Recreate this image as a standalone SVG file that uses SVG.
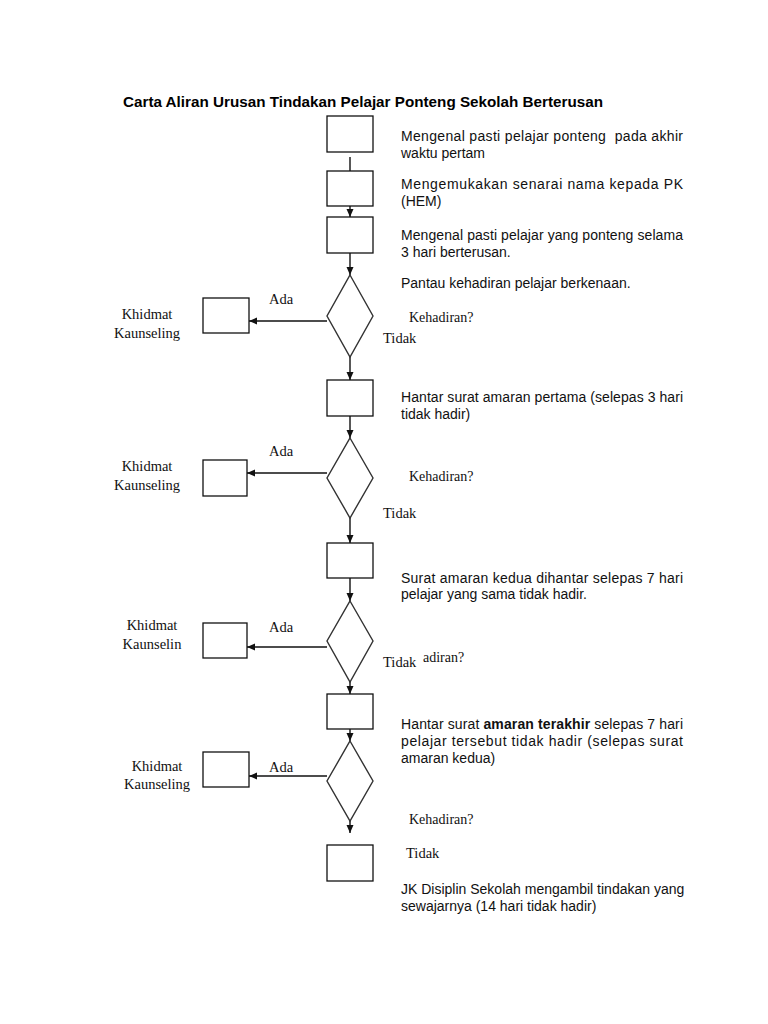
<svg xmlns="http://www.w3.org/2000/svg" width="768" height="1024" viewBox="0 0 768 1024">
<style>
.box{fill:#fff;stroke:#111;stroke-width:1.3}
.dia{fill:#fff;stroke:#333;stroke-width:1.4}
.con{fill:none;stroke:#111;stroke-width:1.4}
.sans{font-family:"Liberation Sans",Arial,sans-serif;font-size:14px;fill:#111}
.serif{font-family:"Liberation Serif","Times New Roman",serif;font-size:14.5px;fill:#111}
.q{font-size:14px}
.title{font-family:"Liberation Sans",Arial,sans-serif;font-size:15.2px;font-weight:bold;fill:#000}
</style>
<defs>
<marker id="arr" markerUnits="userSpaceOnUse" markerWidth="8" markerHeight="8" refX="8" refY="4" orient="auto">
<path d="M0,0.5 L8,4 L0,7.5 z" fill="#111"/>
</marker>
</defs>
<rect width="768" height="1024" fill="#fff"/>
<text class="title" x="123" y="107" textLength="480" lengthAdjust="spacingAndGlyphs">Carta Aliran Urusan Tindakan Pelajar Ponteng Sekolah Berterusan</text>

<g id="connectors">
<line class="con" x1="350" y1="157" x2="350" y2="171"/>
<line class="con" x1="350" y1="206" x2="350" y2="217" marker-end="url(#arr)"/>
<line class="con" x1="350" y1="253" x2="350" y2="275" marker-end="url(#arr)"/>
<line class="con" x1="327" y1="321" x2="249" y2="321" marker-end="url(#arr)"/>
<line class="con" x1="350" y1="357" x2="350" y2="380" marker-end="url(#arr)"/>
<line class="con" x1="350" y1="416" x2="350" y2="438" marker-end="url(#arr)"/>
<line class="con" x1="327" y1="473" x2="247" y2="473" marker-end="url(#arr)"/>
<line class="con" x1="350" y1="518" x2="350" y2="543" marker-end="url(#arr)"/>
<line class="con" x1="350" y1="578" x2="350" y2="601" marker-end="url(#arr)"/>
<line class="con" x1="327" y1="647" x2="247" y2="647" marker-end="url(#arr)"/>
<line class="con" x1="350" y1="682" x2="350" y2="694" marker-end="url(#arr)"/>
<line class="con" x1="350" y1="729" x2="350" y2="741" marker-end="url(#arr)"/>
<line class="con" x1="327" y1="776" x2="249" y2="776" marker-end="url(#arr)"/>
<line class="con" x1="350" y1="821" x2="350" y2="833" marker-end="url(#arr)"/>
</g>

<g id="step1"><rect class="box" x="327" y="116" width="46" height="36"/>
<text class="sans" x="401" y="141" textLength="282" lengthAdjust="spacing" xml:space="preserve">Mengenal pasti pelajar ponteng  pada akhir</text>
<text class="sans" x="401" y="158">waktu pertam</text></g>

<g id="step2"><rect class="box" x="327" y="171" width="46" height="35"/>
<text class="sans" x="401" y="189" textLength="282" lengthAdjust="spacing">Mengemukakan senarai nama kepada PK</text>
<text class="sans" x="401" y="206">(HEM)</text></g>

<g id="step3"><rect class="box" x="327" y="217" width="46" height="36"/>
<text class="sans" x="401" y="240" textLength="282" lengthAdjust="spacing">Mengenal pasti pelajar yang ponteng selama</text>
<text class="sans" x="401" y="257">3 hari berterusan.</text>
<text class="sans" x="401" y="288">Pantau kehadiran pelajar berkenaan.</text></g>

<g id="decision1"><polygon class="dia" points="350,275 373,316 350,357 327,316"/>
<text class="serif q" x="409" y="322">Kehadiran?</text>
<text class="serif" x="269" y="304">Ada</text>
<text class="serif" x="383" y="343">Tidak</text></g>

<g id="counsel1"><rect class="box" x="203" y="298" width="46" height="35"/>
<text class="serif" x="147" y="319" text-anchor="middle">Khidmat</text>
<text class="serif" x="147" y="338" text-anchor="middle">Kaunseling</text></g>

<g id="step4"><rect class="box" x="327" y="380" width="46" height="36"/>
<text class="sans" x="401" y="402" textLength="282" lengthAdjust="spacing">Hantar surat amaran pertama (selepas 3 hari</text>
<text class="sans" x="401" y="419">tidak hadir)</text></g>

<g id="decision2"><polygon class="dia" points="350,438 373,478 350,518 327,478"/>
<text class="serif q" x="409" y="481">Kehadiran?</text>
<text class="serif" x="269" y="456">Ada</text>
<text class="serif" x="383" y="518">Tidak</text></g>

<g id="counsel2"><rect class="box" x="203" y="460" width="44" height="36"/>
<text class="serif" x="147" y="471" text-anchor="middle">Khidmat</text>
<text class="serif" x="147" y="490" text-anchor="middle">Kaunseling</text></g>

<g id="step5"><rect class="box" x="327" y="543" width="46" height="35"/>
<text class="sans" x="401" y="583" textLength="282" lengthAdjust="spacing">Surat amaran kedua dihantar selepas 7 hari</text>
<text class="sans" x="401" y="599">pelajar yang sama tidak hadir.</text></g>

<g id="decision3"><polygon class="dia" points="350,601 373,641 350,682 327,641"/>
<text class="serif q" x="423" y="662">adiran?</text>
<text class="serif" x="269" y="632">Ada</text>
<text class="serif" x="383" y="667">Tidak</text></g>

<g id="counsel3"><rect class="box" x="203" y="623" width="44" height="35"/>
<text class="serif" x="152" y="630" text-anchor="middle">Khidmat</text>
<text class="serif" x="152" y="649" text-anchor="middle">Kaunselin</text></g>

<g id="step6"><rect class="box" x="327" y="694" width="46" height="35"/>
<text class="sans" x="401" y="729" textLength="282" lengthAdjust="spacing">Hantar surat <tspan font-weight="bold">amaran terakhir</tspan> selepas 7 hari</text>
<text class="sans" x="401" y="746" textLength="282" lengthAdjust="spacing">pelajar tersebut tidak hadir (selepas surat</text>
<text class="sans" x="401" y="763">amaran kedua)</text></g>

<g id="decision4"><polygon class="dia" points="350,741 373,781 350,821 327,781"/>
<text class="serif q" x="409" y="824">Kehadiran?</text>
<text class="serif" x="269" y="772">Ada</text>
<text class="serif" x="406" y="858">Tidak</text></g>

<g id="counsel4"><rect class="box" x="203" y="752" width="46" height="35"/>
<text class="serif" x="157" y="771" text-anchor="middle">Khidmat</text>
<text class="serif" x="157" y="789" text-anchor="middle">Kaunseling</text></g>

<g id="step7"><rect class="box" x="327" y="845" width="46" height="36"/>
<text class="sans" x="401" y="894">JK Disiplin Sekolah mengambil tindakan yang</text>
<text class="sans" x="401" y="911">sewajarnya (14 hari tidak hadir)</text></g>
</svg>
